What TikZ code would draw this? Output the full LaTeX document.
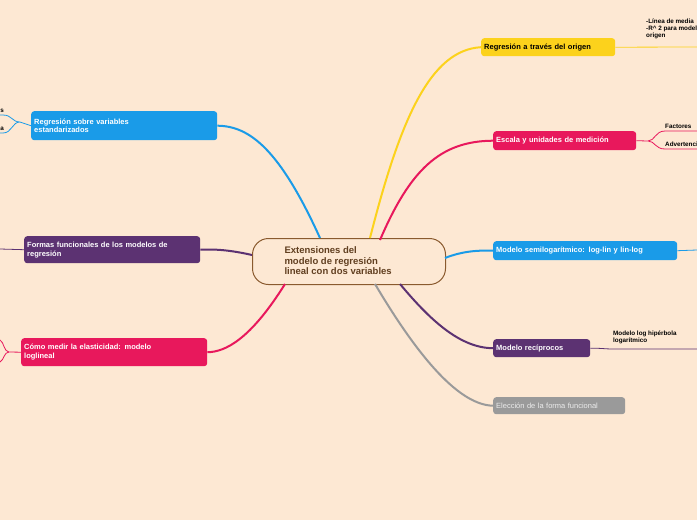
\documentclass[tikz,border=0pt]{standalone}
\usepackage{fontspec}
\setmainfont{Liberation Sans}
\usetikzlibrary{calc}
\definecolor{bgpeach}{HTML}{FDE8D3}
\definecolor{myyellow}{HTML}{FCD21C}
\definecolor{mymagenta}{HTML}{E8185C}
\definecolor{myblue}{HTML}{1A9BE8}
\definecolor{mypurple}{HTML}{5C3272}
\definecolor{mygray}{HTML}{9A9A9A}
\definecolor{mybrown}{HTML}{8A5A2E}
\tikzset{
  topic/.style={rounded corners=3pt, text=white, font=\bfseries\fontsize{7.5}{8.8}\selectfont,
    align=left, anchor=north west, inner sep=3pt},
  leaf/.style={font=\bfseries\fontsize{6.3}{7}\selectfont, align=left, anchor=north west, inner sep=0pt},
  branch/.style={line width=2pt}
}
\begin{document}
\begin{tikzpicture}[x=1pt,y=-1pt]
    %%canvas
    \clip (0,0) rectangle (697,520);
    \fill[bgpeach] (0,0) rectangle (697,520);
    %%centre
    \node[draw=mybrown, line width=1pt, fill=bgpeach, rounded corners=16pt,
      minimum width=193pt, minimum height=46pt, anchor=north west] (centre) at (252,238) {};
    \node[anchor=west, text=mybrown!70!black, align=left,
      font=\bfseries\fontsize{9.5}{10.5}\selectfont] at (281,261)
      {Extensiones del\\modelo de regresión\\lineal con dos variables};
    %%right topics
    \node[topic, fill=myyellow, text=black, minimum width=134pt, minimum height=18pt, text width=128pt] (origen) at (481,38) {Regresión a través del origen};
    \node[topic, fill=mymagenta, minimum width=143pt, minimum height=19pt, text width=137pt] (escala) at (493,131) {Escala y unidades de medición};
    \node[topic, fill=myblue, minimum width=184pt, minimum height=19pt, text width=178pt] (semilog) at (493,241) {Modelo semilogarítmico: log-lin y lin-log};
    \node[topic, fill=mypurple, minimum width=97pt, minimum height=18pt, text width=91pt] (reciproco) at (493,339) {Modelo recíprocos};
    \node[topic, fill=mygray, text=white!85!gray, font=\fontsize{7.5}{8.8}\selectfont, minimum width=132pt, minimum height=17pt, text width=126pt] (eleccion) at (493,397) {Elección de la forma funcional};
    %%left topics
    \node[topic, fill=myblue, minimum width=186pt, minimum height=29pt, text width=180pt] (estand) at (31,111) {Regresión sobre variables\\estandarizados};
    \node[topic, fill=mypurple, minimum width=176pt, minimum height=27pt, text width=170pt] (formas) at (24,236) {Formas funcionales de los modelos de\\regresión};
    \node[topic, fill=mymagenta, minimum width=186pt, minimum height=28pt, text width=180pt] (elastic) at (21,338) {Cómo medir la elasticidad: modelo\\loglineal};
    %%branches
    \draw[branch, myyellow] (370,238) .. controls (400,120) and (430,50) .. (origen.west);
    \draw[branch, mymagenta] (380,240) .. controls (410,170) and (440,141) .. (escala.west);
    \draw[branch, myblue] (445,258) .. controls (460,252) and (475,250) .. (semilog.west);
    \draw[branch, mypurple] (400,284) .. controls (430,320) and (460,348) .. (reciproco.west);
    \draw[branch, mygray] (375,284) .. controls (420,360) and (460,405) .. (eleccion.west);
    \draw[branch, myblue] (320,238) .. controls (280,150) and (250,126) .. (estand.east);
    \draw[branch, mypurple] (252,255) .. controls (230,250) and (215,249) .. (formas.east);
    \draw[branch, mymagenta] (285,284) .. controls (250,340) and (225,352) .. (elastic.east);
    %%leaves right
    \draw[myyellow, thick] (origen.east) -- (697,47);
    \node[leaf] (lineamed) at (646,19) {-Línea de media\\-R\textasciicircum{} 2 para modelo\\origen};
    \coordinate (esc-fork) at (648,141);
    \draw[mymagenta, thick] (escala.east) -- (esc-fork)
      (esc-fork) .. controls (655,141) and (655,131) .. (665,131) -- (697,131)
      (esc-fork) .. controls (655,141) and (655,149) .. (665,149) -- (697,149);
    \node[leaf, anchor=south west] (factores) at (665,129) {Factores};
    \node[leaf, anchor=south west] (advert) at (665,147) {Advertencias};
    \draw[myblue, thick] (semilog.east) -- (697,250);
    \draw[mypurple, thick] (reciproco.east) .. controls (600,348) and (605,349) .. (613,349) -- (697,349);
    \node[leaf] (hiperbola) at (613,331) {Modelo log hipérbola\\logarítmico};
    %%leaves left
    \coordinate (est-fork) at (20,122);
    \draw[myblue, thick] (estand.west) -- (est-fork)
      (est-fork) .. controls (12,122) and (12,115) .. (3,115) -- (0,115)
      (est-fork) .. controls (12,122) and (12,133) .. (3,133) -- (0,133);
    \node[leaf, anchor=south east] (leafs) at (4,113) {s};
    \node[leaf, anchor=south east] (leafa) at (4,131) {a};
    \draw[mypurple, thick] (formas.west) -- (0,249);
    \coordinate (ela-fork) at (9,352);
    \draw[mymagenta, thick] (elastic.west) -- (ela-fork)
      (ela-fork) .. controls (4,352) and (4,342) .. (0,340)
      (ela-fork) .. controls (4,352) and (4,360) .. (0,362);
\end{tikzpicture}
\end{document}
